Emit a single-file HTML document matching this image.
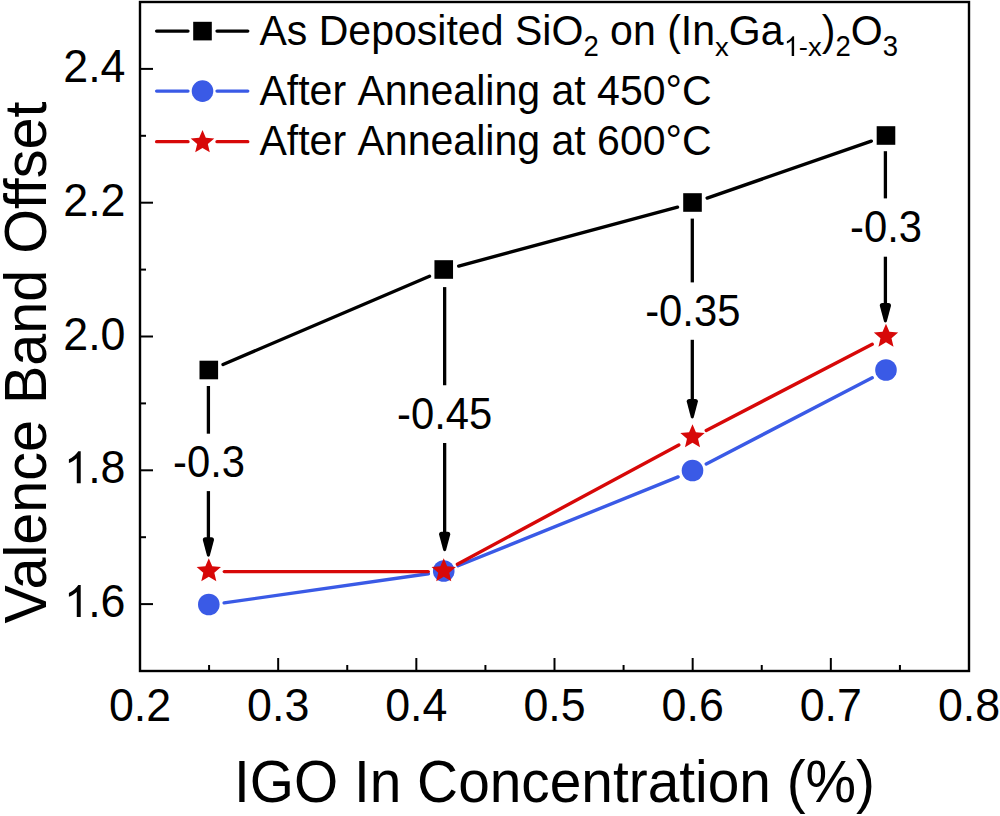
<!DOCTYPE html>
<html><head><meta charset="utf-8"><style>
html,body{margin:0;padding:0;background:#fff;width:1000px;height:816px;overflow:hidden;position:relative}
text{white-space:pre;font-family:"Liberation Sans",sans-serif;fill:#000;font-kerning:none;font-feature-settings:"kern" 0}
.tl{font-size:44.8px}
.at{font-size:57.5px}
.an{font-size:41.8px}
.lg{font-size:41.05px}
.sb{font-size:27.5px;white-space:pre}
</style></head><body>
<svg width="1000" height="816" viewBox="0 0 1000 816" style="position:absolute;left:0;top:0">
<rect x="140.0" y="2.0" width="829.0" height="669.0" fill="none" stroke="#000" stroke-width="2.4"/>
<line x1="140.0" y1="604.10" x2="153.0" y2="604.10" stroke="#000" stroke-width="2"/>
<line x1="140.0" y1="537.20" x2="146.0" y2="537.20" stroke="#000" stroke-width="2"/>
<line x1="140.0" y1="470.30" x2="153.0" y2="470.30" stroke="#000" stroke-width="2"/>
<line x1="140.0" y1="403.40" x2="146.0" y2="403.40" stroke="#000" stroke-width="2"/>
<line x1="140.0" y1="336.50" x2="153.0" y2="336.50" stroke="#000" stroke-width="2"/>
<line x1="140.0" y1="269.60" x2="146.0" y2="269.60" stroke="#000" stroke-width="2"/>
<line x1="140.0" y1="202.70" x2="153.0" y2="202.70" stroke="#000" stroke-width="2"/>
<line x1="140.0" y1="135.80" x2="146.0" y2="135.80" stroke="#000" stroke-width="2"/>
<line x1="140.0" y1="68.90" x2="153.0" y2="68.90" stroke="#000" stroke-width="2"/>
<line x1="209.08" y1="671.0" x2="209.08" y2="665.0" stroke="#000" stroke-width="2"/>
<line x1="278.17" y1="671.0" x2="278.17" y2="658.0" stroke="#000" stroke-width="2"/>
<line x1="347.25" y1="671.0" x2="347.25" y2="665.0" stroke="#000" stroke-width="2"/>
<line x1="416.33" y1="671.0" x2="416.33" y2="658.0" stroke="#000" stroke-width="2"/>
<line x1="485.42" y1="671.0" x2="485.42" y2="665.0" stroke="#000" stroke-width="2"/>
<line x1="554.50" y1="671.0" x2="554.50" y2="658.0" stroke="#000" stroke-width="2"/>
<line x1="623.58" y1="671.0" x2="623.58" y2="665.0" stroke="#000" stroke-width="2"/>
<line x1="692.67" y1="671.0" x2="692.67" y2="658.0" stroke="#000" stroke-width="2"/>
<line x1="761.75" y1="671.0" x2="761.75" y2="665.0" stroke="#000" stroke-width="2"/>
<line x1="830.83" y1="671.0" x2="830.83" y2="658.0" stroke="#000" stroke-width="2"/>
<line x1="899.92" y1="671.0" x2="899.92" y2="665.0" stroke="#000" stroke-width="2"/>
<text transform="translate(125.5,617.10) scale(1,1.045)" text-anchor="end" class="tl">.6</text>
<path d="M583,1147 Q518,1085 415,1024.5 Q312,964 223,931 L223,1105 Q374,1176 484.5,1275 Q595,1374 651,1466 L763,1466 L763,0 L583,0 Z" transform="translate(64.02,617.10) scale(0.021875,-0.021875)" fill="#000"/>
<text transform="translate(125.5,483.30) scale(1,1.045)" text-anchor="end" class="tl">.8</text>
<path d="M583,1147 Q518,1085 415,1024.5 Q312,964 223,931 L223,1105 Q374,1176 484.5,1275 Q595,1374 651,1466 L763,1466 L763,0 L583,0 Z" transform="translate(64.02,483.30) scale(0.021875,-0.021875)" fill="#000"/>
<text transform="translate(125.5,349.50) scale(1,1.045)" text-anchor="end" class="tl">2.0</text>
<text transform="translate(125.5,215.70) scale(1,1.045)" text-anchor="end" class="tl">2.2</text>
<text transform="translate(125.5,81.90) scale(1,1.045)" text-anchor="end" class="tl">2.4</text>
<text transform="translate(140.00,721) scale(1,1.045)" text-anchor="middle" class="tl">0.2</text>
<text transform="translate(278.17,721) scale(1,1.045)" text-anchor="middle" class="tl">0.3</text>
<text transform="translate(416.33,721) scale(1,1.045)" text-anchor="middle" class="tl">0.4</text>
<text transform="translate(554.50,721) scale(1,1.045)" text-anchor="middle" class="tl">0.5</text>
<text transform="translate(692.67,721) scale(1,1.045)" text-anchor="middle" class="tl">0.6</text>
<text transform="translate(830.83,721) scale(1,1.045)" text-anchor="middle" class="tl">0.7</text>
<text transform="translate(969.00,721) scale(1,1.045)" text-anchor="middle" class="tl">0.8</text>
<text transform="translate(234,802) scale(1,1.03)" class="at" style="font-size:56.83px">IGO In Concentration (%)</text>
<text transform="translate(45.5,623.5) rotate(-90) scale(1,1.045)" class="at" style="font-size:57.5px;font-kerning:normal;font-feature-settings:normal">Valence Band Offset</text>
<line x1="223.05" y1="364.50" x2="429.49" y2="276.20" stroke="#000" stroke-width="3.4" stroke-linecap="round"/>
<line x1="458.71" y1="266.07" x2="677.53" y2="207.13" stroke="#000" stroke-width="3.4" stroke-linecap="round"/>
<line x1="707.15" y1="198.03" x2="871.33" y2="141.17" stroke="#000" stroke-width="3.4" stroke-linecap="round"/>
<line x1="224.14" y1="602.91" x2="428.40" y2="573.79" stroke="#3a5ae6" stroke-width="3.4" stroke-linecap="round"/>
<line x1="458.11" y1="565.79" x2="678.13" y2="476.91" stroke="#3a5ae6" stroke-width="3.4" stroke-linecap="round"/>
<line x1="706.26" y1="463.96" x2="872.22" y2="377.74" stroke="#3a5ae6" stroke-width="3.4" stroke-linecap="round"/>
<line x1="224.30" y1="571.60" x2="428.24" y2="571.60" stroke="#d70808" stroke-width="3.4" stroke-linecap="round"/>
<line x1="457.39" y1="564.25" x2="678.85" y2="444.95" stroke="#d70808" stroke-width="3.4" stroke-linecap="round"/>
<line x1="706.26" y1="430.46" x2="872.22" y2="344.24" stroke="#d70808" stroke-width="3.4" stroke-linecap="round"/>
<line x1="208.40" y1="386" x2="208.40" y2="433.7" stroke="#000" stroke-width="3.3"/>
<line x1="208.40" y1="491.1" x2="208.40" y2="541.9" stroke="#000" stroke-width="3.3"/>
<path d="M202.80,539.90 Q202.80,537.30 205.40,537.30 L211.40,537.30 Q214.00,537.30 214.00,539.90 L209.80,555.70 Q208.40,557.70 207.00,555.70 Z" fill="#000"/>
<text transform="translate(209.00,476.7) scale(1,1.045)" text-anchor="middle" class="an">-0.3</text>
<line x1="444.65" y1="287.1" x2="444.65" y2="385.25" stroke="#000" stroke-width="3.3"/>
<line x1="444.65" y1="443" x2="444.65" y2="536.4" stroke="#000" stroke-width="3.3"/>
<path d="M439.05,534.40 Q439.05,531.80 441.65,531.80 L447.65,531.80 Q450.25,531.80 450.25,534.40 L446.05,550.20 Q444.65,552.20 443.25,550.20 Z" fill="#000"/>
<text transform="translate(444.60,428.5) scale(1,1.045)" text-anchor="middle" class="an">-0.45</text>
<line x1="692.30" y1="218.6" x2="692.30" y2="282.4" stroke="#000" stroke-width="3.3"/>
<line x1="692.30" y1="339.8" x2="692.30" y2="403.6" stroke="#000" stroke-width="3.3"/>
<path d="M686.70,401.60 Q686.70,399.00 689.30,399.00 L695.30,399.00 Q697.90,399.00 697.90,401.60 L693.70,417.40 Q692.30,419.40 690.90,417.40 Z" fill="#000"/>
<text transform="translate(692.80,325.59999999999997) scale(1,1.045)" text-anchor="middle" class="an">-0.35</text>
<line x1="885.40" y1="151.2" x2="885.40" y2="198.4" stroke="#000" stroke-width="3.3"/>
<line x1="885.40" y1="256.7" x2="885.40" y2="307.7" stroke="#000" stroke-width="3.3"/>
<path d="M879.80,305.70 Q879.80,303.10 882.40,303.10 L888.40,303.10 Q891.00,303.10 891.00,305.70 L886.80,321.50 Q885.40,323.50 884.00,321.50 Z" fill="#000"/>
<text transform="translate(886.10,241.79999999999998) scale(1,1.045)" text-anchor="middle" class="an">-0.3</text>
<rect x="199.50" y="360.70" width="18.6" height="18.6" fill="#000"/>
<rect x="434.44" y="260.20" width="18.6" height="18.6" fill="#000"/>
<rect x="683.20" y="193.20" width="18.6" height="18.6" fill="#000"/>
<rect x="876.68" y="126.20" width="18.6" height="18.6" fill="#000"/>
<circle cx="208.80" cy="604.50" r="10.8" fill="#3a5ae6"/>
<circle cx="443.74" cy="571.00" r="10.8" fill="#3a5ae6"/>
<circle cx="692.50" cy="470.50" r="10.8" fill="#3a5ae6"/>
<circle cx="885.98" cy="370.00" r="10.8" fill="#3a5ae6"/>
<polygon points="208.80,558.20 212.21,566.31 220.97,567.04 214.32,572.79 216.32,581.36 208.80,576.80 201.28,581.36 203.28,572.79 196.63,567.04 205.39,566.31" fill="#d70808"/>
<polygon points="443.74,558.20 447.15,566.31 455.91,567.04 449.26,572.79 451.26,581.36 443.74,576.80 436.22,581.36 438.22,572.79 431.57,567.04 440.33,566.31" fill="#d70808"/>
<polygon points="692.50,424.20 695.91,432.31 704.67,433.04 698.02,438.79 700.02,447.36 692.50,442.80 684.98,447.36 686.98,438.79 680.33,433.04 689.09,432.31" fill="#d70808"/>
<polygon points="885.98,323.70 889.39,331.81 898.15,332.54 891.50,338.29 893.50,346.86 885.98,342.30 878.46,346.86 880.46,338.29 873.81,332.54 882.57,331.81" fill="#d70808"/>
<line x1="156.6" y1="31.1" x2="188.0" y2="31.1" stroke="#000" stroke-width="3.3" stroke-linecap="round"/>
<line x1="217.0" y1="31.1" x2="247.8" y2="31.1" stroke="#000" stroke-width="3.3" stroke-linecap="round"/>
<rect x="193.2" y="21.8" width="18.6" height="18.6" fill="#000"/>
<line x1="156.6" y1="91.1" x2="188.0" y2="91.1" stroke="#3a5ae6" stroke-width="3.3" stroke-linecap="round"/>
<line x1="217.0" y1="91.1" x2="247.8" y2="91.1" stroke="#3a5ae6" stroke-width="3.3" stroke-linecap="round"/>
<circle cx="202.5" cy="91.1" r="10.8" fill="#3a5ae6"/>
<line x1="156.6" y1="141.7" x2="188.0" y2="141.7" stroke="#d70808" stroke-width="3.3" stroke-linecap="round"/>
<line x1="217.0" y1="141.7" x2="247.8" y2="141.7" stroke="#d70808" stroke-width="3.3" stroke-linecap="round"/>
<polygon points="202.50,129.90 205.79,137.77 214.29,138.47 207.83,144.03 209.79,152.33 202.50,147.90 195.21,152.33 197.17,144.03 190.71,138.47 199.21,137.77" fill="#d70808"/>
<text transform="translate(259.40,44.8) scale(1,1.05)" class="lg" xml:space="preserve">As Deposited SiO</text>
<text transform="translate(583.39,56.0) scale(1,1.09)" class="sb">2</text>
<text transform="translate(598.68,44.8) scale(1,1.05)" class="lg" xml:space="preserve"> on (In</text>
<text transform="translate(715.06,56.0) scale(1,0.945)" class="sb">x</text>
<text transform="translate(728.81,44.8) scale(1,1.05)" class="lg" xml:space="preserve">Ga</text>
<path d="M583,1147 Q518,1085 415,1024.5 Q312,964 223,931 L223,1105 Q374,1176 484.5,1275 Q595,1374 651,1466 L763,1466 L763,0 L583,0 Z" transform="translate(783.87,56.00) scale(0.013428,-0.013428)" fill="#000"/>
<text transform="translate(798.86,56.0) scale(1,0.945)" class="sb">-x</text>
<text transform="translate(821.77,44.8) scale(1,1.05)" class="lg" xml:space="preserve">)</text>
<text transform="translate(835.44,56.0) scale(1,1.09)" class="sb">2</text>
<text transform="translate(850.74,44.8) scale(1,1.05)" class="lg" xml:space="preserve">O</text>
<text transform="translate(882.67,56.0) scale(1,1.09)" class="sb">3</text>
<text transform="translate(259.4,104.5) scale(1,1.05)" class="lg">After Annealing at 450°C</text>
<text transform="translate(259.4,155.3) scale(1,1.05)" class="lg">After Annealing at 600°C</text>
</svg>
</body></html>
